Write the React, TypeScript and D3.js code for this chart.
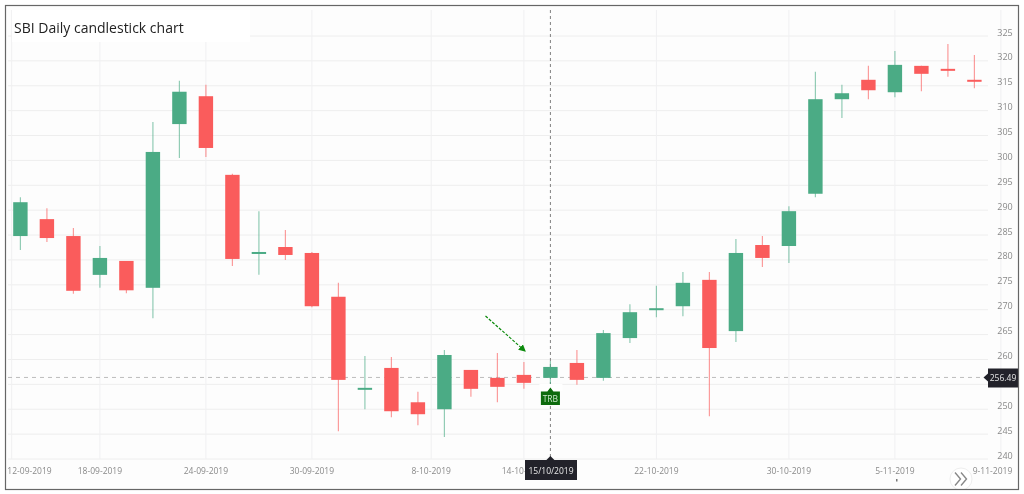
import React from "react";
import * as d3 from "d3";

const open = [284.8,288.2,284.8,277.0,279.8,274.4,307.3,312.9,297.1,281.2,282.6,281.4,272.6,253.9,258.3,251.4,250.0,257.9,256.3,256.9,256.3,259.3,256.3,264.3,269.9,270.7,276.0,265.7,283.0,282.8,293.3,312.3,316.2,313.7,319.0,318.4,316.2];
const close = [291.6,284.4,273.8,280.4,273.9,301.7,313.8,302.5,280.2,281.6,281.0,270.7,255.9,254.3,249.6,249.0,260.9,254.1,254.5,255.3,258.5,255.9,265.3,269.5,270.3,275.4,262.3,281.4,280.4,289.8,312.3,313.5,314.1,319.2,317.4,318.0,315.8];
const high = [292.6,290.4,286.4,282.8,279.8,307.7,316.0,315.2,297.3,289.8,286.0,281.6,275.4,260.7,260.5,253.5,261.9,257.9,261.3,259.5,259.7,261.9,265.9,271.1,274.8,277.6,277.6,284.2,284.8,290.8,317.8,315.2,319.0,322.0,319.0,323.4,321.2];
const low = [282.0,283.6,273.2,274.4,273.3,268.3,300.5,300.7,278.8,277.0,280.0,270.5,245.6,250.0,248.4,246.8,244.4,252.5,251.4,254.1,254.3,254.9,255.7,263.3,268.5,268.7,248.6,263.5,278.6,279.4,292.6,308.5,312.3,312.7,313.9,316.8,314.5];
const priceTicks = [240,245,250,255,260,265,270,275,280,285,290,295,300,305,310,315,320,325];
const priceLabels = [240,245,250,260,265,270,275,280,285,290,295,300,305,310,315,320,325];
const dateLabels = ["12-09-2019","18-09-2019","24-09-2019","30-09-2019","8-10-2019","14-10-2019","22-10-2019","30-10-2019","5-11-2019","9-11-2019"];
const dateSlots = [-0.33,3,7,11,15.5,19,24,29,33,37];
const crossPrice = 256.49;
const crossDate = "15/10/2019";
const crossSlot = 20;
const title = "SBI Daily candlestick chart";

const UP = "#4bab85";
const DOWN = "#fa5c5c";
const FONT = "'Open Sans', sans-serif";

export default function App() {
  const x = d3.scaleLinear().domain([0, 36]).range([20.4, 974.4]);
  const y = d3.scaleLinear().domain([240, 325]).range([459, 36]);
  const cx = x(crossSlot);
  const cy = y(crossPrice) + 0.5;
  return (
    <svg width={1024} height={494} style={{ position: "absolute", left: 0, top: 0 }}>
      <defs>
        <filter id="soft" x="0" y="0" width="100%" height="100%">
          <feGaussianBlur stdDeviation="0.35" />
        </filter>
        <marker id="ah" markerWidth="6" markerHeight="6" refX="5" refY="3" orient="auto">
          <path d="M0,0L6,3L0,6Z" fill="#0a8a0a" />
        </marker>
      </defs>
      <rect width={1024} height={494} fill="#fff" />
      <g filter="url(#soft)">
        <rect x={6} y={6} width={1012} height={483} fill="#fdfdfd" />
        {priceTicks.map((p) => (
          <line key={p} x1={8} x2={988} y1={y(p)} y2={y(p)} stroke="#eeeeee" strokeWidth={1} />
        ))}
        {dateSlots.map((s) => (
          <line key={s} x1={x(s)} x2={x(s)} y1={10} y2={y(240)} stroke="#f0f0f2" strokeWidth={1} />
        ))}
        {priceLabels.map((p) => (
          <text key={p} x={1005} y={y(p) - 4} textAnchor="middle" dominantBaseline="central" fontSize={9} fontFamily={FONT} fill="#8a8a8a">{p}</text>
        ))}
        {dateLabels.map((d, i) => (
          <text key={d} x={Math.min(992.5, Math.max(29.5, x(dateSlots[i])))} y={470} textAnchor="middle" dominantBaseline="central" fontSize={8.5} fontFamily={FONT} fill="#8a8a8a">{d}</text>
        ))}
        <line x1={8} x2={986} y1={cy} y2={cy} stroke="#b4b4b4" strokeWidth={0.9} strokeDasharray="4 4" />
        <line x1={cx} x2={cx} y1={10} y2={460} stroke="#808080" strokeDasharray="3 3" />
        {open.map((o, i) => {
          const c = close[i];
          const col = c >= o ? UP : DOWN;
          const top = y(Math.max(o, c));
          const h = Math.abs(y(o) - y(c));
          return (
            <g key={i}>
              <line x1={x(i)} x2={x(i)} y1={y(high[i])} y2={y(low[i])} stroke={col} strokeOpacity={0.6} strokeWidth={1.2} />
              <rect x={x(i) - 7.2} y={top} width={14.4} height={Math.max(h, 1.5)} fill={col} />
            </g>
          );
        })}
        <line x1={485.5} y1={316} x2={525} y2={351} stroke="#0a8a0a" strokeWidth={1.2} strokeDasharray="3 1.5" markerEnd="url(#ah)" />
        <rect x={cx - 11} y={384} width={23} height={7} fill="#fff" />
        <path d={`M${cx - 9.5},391.5H${cx - 3}L${cx},387.5L${cx + 3},391.5H${cx + 9.5}V405H${cx - 9.5}Z`} fill="#076b07" />
        <text x={cx} y={398.5} textAnchor="middle" dominantBaseline="central" fontSize={8.5} fontFamily={FONT} fill="#cfe6cf">TRB</text>
        <path d={`M525,460H${cx - 4}L${cx},456L${cx + 4},460H577V480H525Z`} fill="#22232b" />
        <text x={551} y={470} textAnchor="middle" dominantBaseline="central" fontSize={8.5} fontFamily={FONT} fill="#e6e6e6">{crossDate}</text>
        <path d={`M988,${cy - 9}H1018V${cy + 10}H988V${cy + 4}L983.5,${cy}L988,${cy - 4}Z`} fill="#22232b" />
        <text x={1003} y={cy + 0.5} textAnchor="middle" dominantBaseline="central" fontSize={8.5} fontFamily={FONT} fill="#e6e6e6">{crossPrice}</text>
        <circle cx={961} cy={479} r={11} fill="#fff" stroke="#eeeeee" />
        <rect x={896} y={479} width={1.5} height={2.5} fill="#777" />
        <path d="M955,472.5L960.5,479L955,485.5M961,472.5L966.5,479L961,485.5" fill="none" stroke="#888" strokeWidth={1.4} />
        <rect x={12} y={10} width={238} height={32} fill="#fff" />
        <text x={14} y={27.5} dominantBaseline="central" fontSize={14} fontFamily={FONT} fill="#222">{title}</text>
      </g>
      <rect x={5.5} y={5.5} width={1013} height={484} fill="none" stroke="#666" strokeWidth={1.2} />
    </svg>
  );
}
